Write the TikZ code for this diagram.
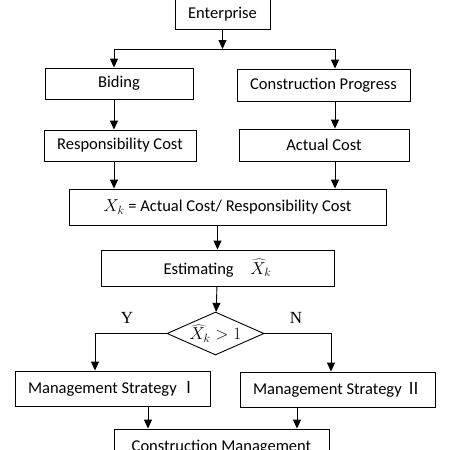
\documentclass[tikz,border=0pt]{standalone}
\usepackage{fontspec}
\setmainfont{Carlito}
\newfontfamily\tms{Liberation Serif}
\newfontfamily\cjk{Noto Sans CJK SC}
\usetikzlibrary{arrows.meta,shapes.geometric}
\begin{document}
\begin{tikzpicture}[x=1pt, y=-1pt, >={Triangle[length=9pt,width=8pt]}, line width=0.9pt,
    font=\fontsize{16.5}{20}\selectfont,
    box/.style={draw, rectangle, inner sep=0pt},
    test/.style={draw, diamond, aspect=2.25, inner sep=0pt, minimum width=97pt, minimum height=43pt}]
  \useasboundingbox (0,0) rectangle (450,450);

  % Nodes
  \node[box, minimum width=95pt, minimum height=30pt] (ent) at (222.5,14) {Enterprise};
  \node[box, minimum width=148pt, minimum height=31pt] (bid) at (119,83.5) {Biding};
  \node[box, minimum width=173pt, minimum height=32pt] (prog) at (323.5,85) {Construction Progress};
  \node[box, minimum width=152pt, minimum height=31pt] (resp) at (120,145.5) {Responsibility Cost};
  \node[box, minimum width=170pt, minimum height=32pt] (act) at (324,145) {Actual Cost};
  \node[box, minimum width=317pt, minimum height=36pt] (ratio) at (227.5,207) {$X_k$ = Actual Cost/ Responsibility Cost\hspace{38pt}};
  \node[box, minimum width=233pt, minimum height=36pt] (est) at (217.5,268) {Estimating\quad$\widehat{X}_k$};
  \node[test] (dec) at (215.5,333.5) {$\widehat{X}_k > 1$};
  \node[box, minimum width=195pt, minimum height=35pt] (m1) at (112.5,388.5) {Management Strategy {\cjk Ⅰ}};
  \node[box, minimum width=195pt, minimum height=35pt] (m2) at (337.5,389.5) {Management Strategy {\cjk Ⅱ}};
  \node[box, minimum width=215pt, minimum height=36pt] (cm) at (221.5,447) {Construction Management};
  \node[font=\fontsize{17}{20}\tms] (yes) at (127,318) {Y};
  \node[font=\fontsize{17}{20}\tms] (no) at (296,318) {N};

  % Branch points
  \coordinate (j) at (222.5,49);
  \coordinate (L) at (114,0);
  \coordinate (R) at (335,0);
  \coordinate (YL) at (95,0);
  \coordinate (YR) at (331,0);
  \coordinate (C1) at (148,0);
  \coordinate (C2) at (297,0);

  % Connectors
  \draw[->] (ent) -- (j);
  \draw (j -| L) -- (j -| R);
  \draw[->] (j -| L) -- (bid.north -| L);
  \draw[->] (j -| R) -- (prog.north -| R);
  \draw[->] (bid.south -| L) -- (resp.north -| L);
  \draw[->] (prog.south -| R) -- (act.north -| R);
  \draw[->] (resp.south -| L) -- (ratio.north -| L);
  \draw[->] (act.south -| R) -- (ratio.north -| R);
  \draw[->] (ratio.south -| est) -- (est);
  \draw[->] (est) -- (dec);
  \draw[->] (dec.west) -| (m1.north -| YL);
  \draw[->] (dec.east) -| (m2.north -| YR);
  \draw[->] (m1.south -| C1) -- (cm.north -| C1);
  \draw[->] (m2.south -| C2) -- (cm.north -| C2);
\end{tikzpicture}
\end{document}
